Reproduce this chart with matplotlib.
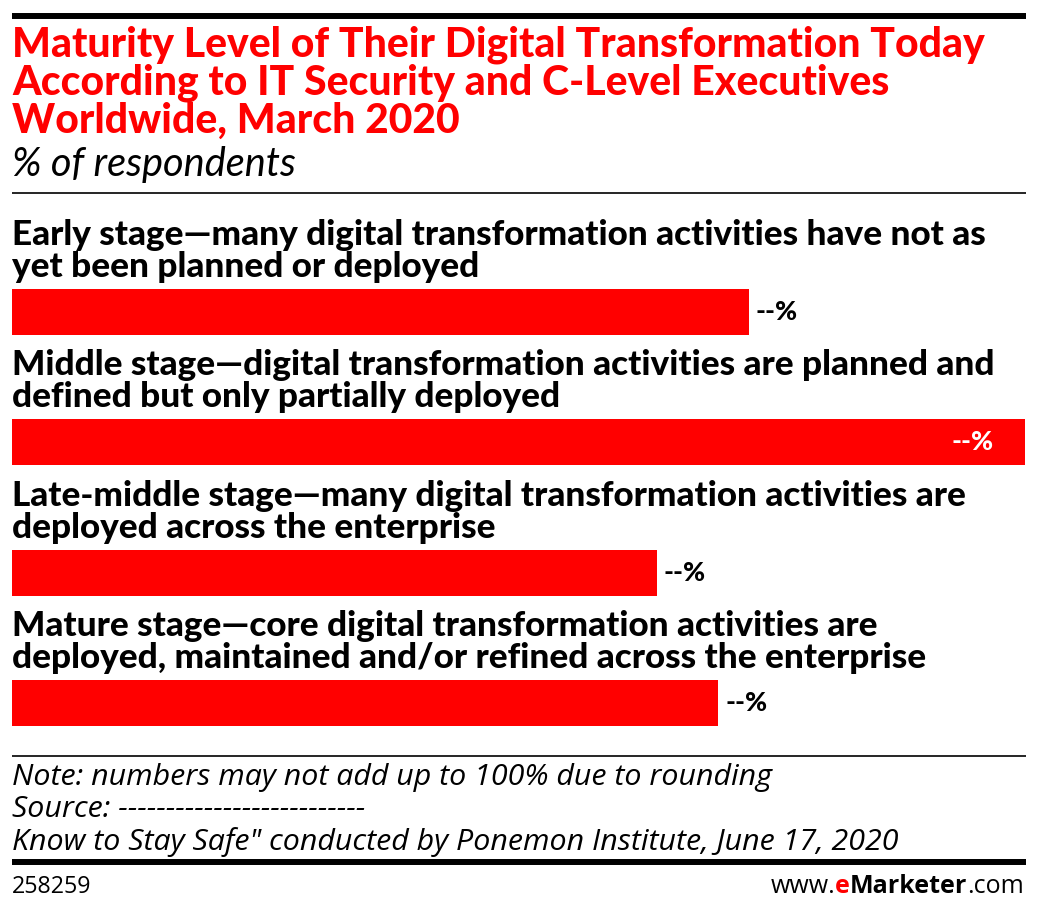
import numpy as np
import matplotlib.pyplot as plt
from matplotlib.lines import Line2D
from matplotlib.font_manager import FontProperties

W, H = 1038, 911

title_lines = ['Maturity Level of Their Digital Transformation Today',
               'According to IT Security and C-Level Executives',
               'Worldwide, March 2020']
subtitle = '% of respondents'
stages = [
    ['Early stage\u2014many digital transformation activities have not as',
     'yet been planned or deployed'],
    ['Middle stage\u2014digital transformation activities are planned and',
     'defined but only partially deployed'],
    ['Late-middle stage\u2014many digital transformation activities are',
     'deployed across the enterprise'],
    ['Mature stage\u2014core digital transformation activities are',
     'deployed, maintained and/or refined across the enterprise'],
]
values = [24, 33, 21, 23]
value_labels = ['--%', '--%', '--%', '--%']
notes = ['Note: numbers may not add up to 100% due to rounding',
         'Source: --------------------------',
         'Know to Stay Safe" conducted by Ponemon Institute, June 17, 2020']
chart_id = '258259'

RED = '#ff0000'
BOLD = ['Lato', 'DejaVu Sans']
PLAIN = ['Open Sans', 'DejaVu Sans']

fig = plt.figure(figsize=(W / 100, H / 100), dpi=100)
renderer = fig.canvas.get_renderer()


def fy(y):
    return 1 - y / H


def fit(t, width_px):
    w = t.get_window_extent(renderer).width
    t.set_fontsize(t.get_fontsize() * width_px / w)
    return t.get_fontsize()


def rule(y, lw):
    fig.add_artist(Line2D([12 / W, 1026 / W], [fy(y), fy(y)], color='black',
                          lw=lw, solid_capstyle='butt'))


# header
rule(15.5, 4.3)
t = fig.text(12 / W, fy(57), title_lines[0], color=RED, family=BOLD,
             weight='black', fontsize=24, va='baseline')
size = fit(t, 972)
for i, line in enumerate(title_lines[1:]):
    fig.text(12 / W, fy(57 + 38 * (i + 1)), line, color=RED, family=BOLD,
             weight='black', fontsize=size, va='baseline')
t = fig.text(12 / W, fy(176), subtitle, family=BOLD,
             style='italic', fontsize=20, va='baseline')
fit(t, 284)
rule(193, 1.2)

# bars
ax = fig.add_axes([12 / W, fy(726), (1025 - 12) / W, (726 - 289) / H])
bh = 46 / 130.5
y = np.arange(len(values))
ax.barh(y, values, height=bh, color=RED)
ax.set_xlim(0, max(values))
ax.set_ylim(len(values) - 1 + bh / 2, -bh / 2)
ax.axis('off')

lab_size = None
for i, (l1, l2) in enumerate(stages):
    t1 = ax.annotate(l1, (0, i - bh / 2), xytext=(0, 44), textcoords='offset pixels',
                     family=BOLD, weight='black', fontsize=18, va='baseline',
                     annotation_clip=False)
    if lab_size is None:
        lab_size = fit(t1, 976)
    t1.set_fontsize(lab_size)
    ax.annotate(l2, (0, i - bh / 2), xytext=(0, 12), textcoords='offset pixels',
                family=BOLD, weight='black', fontsize=lab_size, va='baseline',
                annotation_clip=False)

val_size = None
for i, (v, lab) in enumerate(zip(values, value_labels)):
    if v == max(values):
        t = ax.annotate(lab, (v, i), xytext=(-31, 0), textcoords='offset pixels',
                        ha='right', va='center', color='white', family=BOLD,
                        weight='black', fontsize=20, annotation_clip=False)
    else:
        t = ax.annotate(lab, (v, i), xytext=(7, 0), textcoords='offset pixels',
                        ha='left', va='center', color='black', family=BOLD,
                        weight='black', fontsize=20, annotation_clip=False)
    if val_size is None:
        val_size = fit(t, 42)
    t.set_fontsize(val_size)

# footer
rule(756, 1.2)
t = fig.text(12 / W, fy(786), notes[0], family=PLAIN, style='italic',
             fontsize=18, va='baseline')
nsize = fit(t, 761)
t.remove()
prop = FontProperties(family=PLAIN, style='italic', size=nsize)
_, lp_h, lp_d = renderer.get_text_width_height_descent('lp', prop, ismath=False)
ls = (32 - lp_d) / (lp_h - lp_d)
fig.text(12 / W, fy(850 + lp_d), '\n'.join(notes), fontproperties=prop,
         va='bottom', linespacing=ls)
rule(862, 4.3)

t = fig.text(12 / W, fy(893), chart_id, family=PLAIN, fontsize=16, va='baseline')
fit(t, 80)

x = 1024
for txt, color, weight in reversed([('www.', 'black', 'normal'),
                                    ('e', RED, 'bold'),
                                    ('Marketer', 'black', 'bold'),
                                    ('.com', 'black', 'normal')]):
    t = fig.text(x / W, fy(893), txt, color=color, weight=weight, family=PLAIN,
                 fontsize=18, ha='right', va='baseline')
    x -= t.get_window_extent(renderer).width

fig.savefig('out.png', dpi=100)
